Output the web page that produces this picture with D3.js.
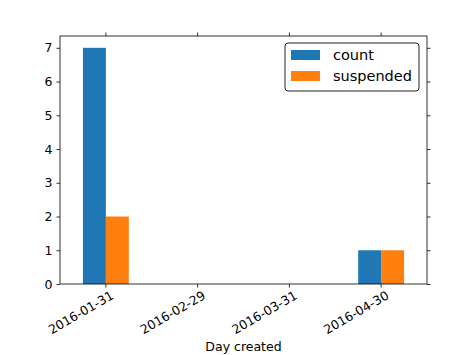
<!DOCTYPE html>
<html><head><meta charset="utf-8">
<script src="https://cdn.jsdelivr.net/npm/d3@7"></script>
<style>body{margin:0;background:#fff}svg{display:block}text{font-family:"DejaVu Sans",sans-serif}</style>
</head><body>
<script>
const categories = ["2016-01-31","2016-02-29","2016-03-31","2016-04-30"];
const seriesNames = ["count","suspended"];
const countValues = [7,0,0,1];
const suspendedValues = [2,0,0,1];
const yTicks = [0,1,2,3,4,5,6,7];
const colors = ["#1f77b4","#ff7f0e"];

const W=474,H=355;
const m={l:60,t:36,r:47,b:71};
const iw=W-m.l-m.r, ih=H-m.t-m.b;
const svg=d3.select("body").append("svg").attr("width",W).attr("height",H);
const g=svg.append("g").attr("transform",`translate(${m.l},${m.t})`);

const x=d3.scaleBand().domain(categories).range([0,iw]).paddingInner(0).paddingOuter(0);
const sub=d3.scaleBand().domain(seriesNames).range([x.bandwidth()*0.25,x.bandwidth()*0.75]);
const y=d3.scaleLinear().domain([0,7.35]).range([ih,0]);

const data=[countValues,suspendedValues];
seriesNames.forEach((s,si)=>{
  g.selectAll(".b"+si).data(categories).enter().append("rect")
   .attr("x",d=>x(d)+sub(s)).attr("width",sub.bandwidth())
   .attr("y",(d,i)=>y(data[si][i])).attr("height",(d,i)=>y(0)-y(data[si][i]))
   .attr("fill",colors[si]);
});

const fs=12.5;
g.append("g").attr("transform",`translate(0,${ih})`).call(d3.axisBottom(x).tickSize(3.5).tickFormat(""));
g.append("g").attr("class","xlabels").selectAll("text").data(categories).enter().append("text")
  .attr("font-size",fs).attr("fill","#000").attr("text-anchor","end").attr("dy","0.75em")
  .attr("transform",d=>`translate(${x(d)+x.bandwidth()/2+4},${ih+6}) rotate(-30)`)
  .text(d=>d);
g.append("g").call(d3.axisTop(x).tickSize(3.5).tickFormat(""));
const ay=g.append("g").call(d3.axisLeft(y).tickValues(yTicks).tickSize(3.5).tickPadding(4));
ay.selectAll("text").attr("font-size",fs).attr("fill","#000");
g.append("g").attr("transform",`translate(${iw},0)`).call(d3.axisRight(y).tickValues(yTicks).tickSize(3.5).tickFormat(""));
g.selectAll(".domain").remove();
g.selectAll(".tick line").attr("stroke","#000").attr("stroke-width",0.8);
g.append("rect").attr("width",iw).attr("height",ih).attr("fill","none").attr("stroke","#000").attr("stroke-width",0.8);

svg.append("text").attr("x",m.l+iw/2).attr("y",351).attr("text-anchor","middle").attr("font-size",fs).text("Day created");

const lg=svg.append("g").attr("transform","translate(285,43)");
lg.append("rect").attr("width",134).attr("height",48).attr("rx",3).attr("fill","#fff").attr("stroke","#222").attr("stroke-width",1);
seriesNames.forEach((s,i)=>{
  lg.append("rect").attr("x",6).attr("y",7+i*21).attr("width",29).attr("height",10).attr("fill",colors[i]);
  lg.append("text").attr("x",48).attr("y",17+i*21).attr("font-size",14.5).text(s);
});
</script>
</body></html>
